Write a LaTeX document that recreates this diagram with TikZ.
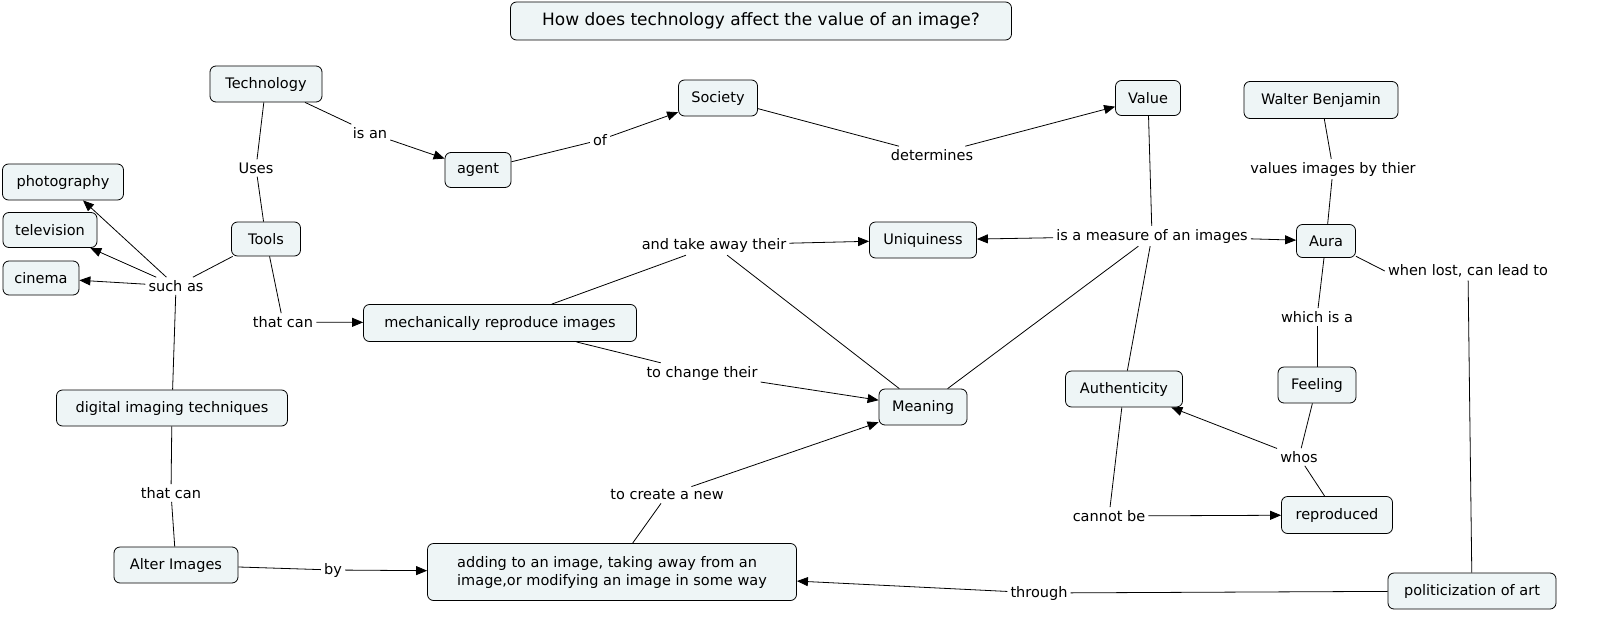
\documentclass[tikz,border=0pt]{standalone}
\usepackage{fontspec}
\setmainfont{DejaVu Sans}
\usetikzlibrary{arrows.meta}
\definecolor{boxfill}{HTML}{EEF5F6}
\begin{document}
\begin{tikzpicture}[x=1pt,y=-1pt,
  cbox/.style={draw=black,fill=boxfill,rounded corners=6pt,inner sep=2pt,font=\fontsize{14.5}{18}\selectfont,line width=0.8pt},
  lbl/.style={inner sep=3pt,font=\fontsize{14.5}{18}\selectfont},
  ar/.style={-{Triangle[length=11pt,width=9pt]},line width=0.8pt},
  ln/.style={line width=0.8pt}]
\useasboundingbox[fill=white] (0,0) rectangle (1600,626);
\newcommand{\cb}[5]{\node[cbox,minimum width=#3,minimum height=#4] (#1) at #2 {#5};}
\node[cbox,minimum width=501,minimum height=38,font=\fontsize{17}{20}\selectfont] (title) at (761,21) {How does technology affect the value of an image?};
\cb{tech}{(266,84)}{112}{36}{Technology}
\cb{soc}{(718,98)}{79}{36}{Society}
\cb{val}{(1148,98)}{65}{35}{Value}
\cb{wb}{(1321,100)}{154}{37}{Walter Benjamin}
\cb{agent}{(478,170)}{66}{35}{agent}
\cb{photo}{(63,182)}{121}{36}{photography}
\cb{tv}{(50,230)}{94}{35}{television}
\cb{cin}{(41,278)}{76}{34}{cinema}
\cb{tools}{(266,239)}{69}{34}{Tools}
\cb{uniq}{(923,240)}{107}{36}{Uniquiness}
\cb{aura}{(1326,241)}{59}{33}{Aura}
\cb{mech}{(500,323)}{273}{37}{mechanically reproduce images}
\cb{dig}{(172,408)}{231}{36}{digital imaging techniques}
\cb{mean}{(923,407)}{88}{36}{Meaning}
\cb{auth}{(1124,389)}{117}{36}{Authenticity}
\cb{feel}{(1317,385)}{78}{36}{Feeling}
\cb{repr}{(1337,515)}{111}{37}{reproduced}
\cb{alter}{(176,565)}{124}{36}{Alter Images}
\node[cbox,minimum width=369,minimum height=57,align=left] (add) at (612,572) {adding to an image, taking away from an\\image,or modifying an image in some way};
\cb{pol}{(1472,591)}{168}{36}{politicization of art}
% labels
\node[lbl] (l1) at (370,133) {is an};
\node[lbl] (l2) at (256,168) {Uses};
\node[lbl] (l3) at (600,140) {of};
\node[lbl] (l4) at (932,155) {determines};
\node[lbl] (l5) at (1333,169) {values images by thier};
\node[lbl] (l6) at (714,245) {and take away their};
\node[lbl] (l7) at (1152,236) {is a measure of an images};
\node[lbl] (l8) at (1468,271) {when lost, can lead to};
\node[lbl] (l9) at (176,286) {such as};
\node[lbl] (l10) at (283,322) {that can};
\node[lbl] (l11) at (1317,317) {which is a};
\node[lbl] (l12) at (702,373) {to change their};
\node[lbl] (l13) at (1299,457) {whos};
\node[lbl] (l14) at (171,493) {that can};
\node[lbl] (l15) at (1109,516) {cannot be};
\node[lbl] (l16) at (667,495) {to create a new};
\node[lbl] (l17) at (333,570) {by};
\node[lbl] (l18) at (1039,593) {through};
% connectors
\draw[ln] (tech) -- (l1); \draw[ar] (l1) -- (agent);
\draw[ln] (tech) -- (l2); \draw[ln] (l2) -- (tools);
\draw[ln] (agent) -- (l3); \draw[ar] (l3) -- (soc);
\draw[ln] (soc) -- (l4); \draw[ar] (l4) -- (val);
\draw[ln] (val) -- (l7);
\draw[ar] (l7) -- (uniq); \draw[ar] (l7) -- (aura);
\draw[ln] (l7) -- (mean); \draw[ln] (l7) -- (auth);
\draw[ln] (wb) -- (l5); \draw[ln] (l5) -- (aura);
\draw[ln] (aura) -- (l8.west); \draw[ln] (l8) -- (pol);
\draw[ln] (pol) -- (l18); \draw[ar] (l18) -- (add);
\draw[ln] (aura) -- (l11); \draw[ln] (l11) -- (feel);
\draw[ln] (feel) -- (l13); \draw[ar] (l13) -- (auth); \draw[ln] (l13) -- (repr);
\draw[ln] (auth) -- (l15); \draw[ar] (l15) -- (repr);
\draw[ln] (tools) -- (l9);
\draw[ar] (l9) -- (photo); \draw[ar] (l9) -- (tv); \draw[ar] (l9) -- (cin);
\draw[ln] (l9) -- (dig);
\draw[ln] (tools) -- (l10); \draw[ar] (l10) -- (mech);
\draw[ln] (mech) -- (l6); \draw[ar] (l6) -- (uniq); \draw[ln] (l6) -- (mean);
\draw[ln] (mech) -- (l12); \draw[ar] (l12) -- (mean);
\draw[ln] (dig) -- (l14); \draw[ln] (l14) -- (alter);
\draw[ln] (alter) -- (l17); \draw[ar] (l17) -- (add);
\draw[ln] (add) -- (l16); \draw[ar] (l16) -- (mean);
\end{tikzpicture}
\end{document}
